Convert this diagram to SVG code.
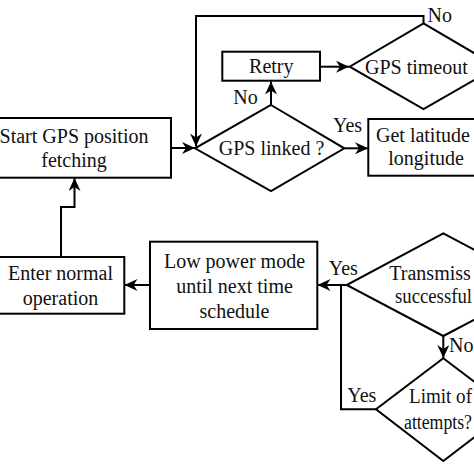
<svg xmlns="http://www.w3.org/2000/svg" width="474" height="474" viewBox="0 0 474 474">
<style>
.box{fill:#fff;stroke:#000;stroke-width:2}
.con{fill:none;stroke:#000;stroke-width:2}
text{font-family:"Liberation Serif","Times New Roman",serif;font-size:20px;fill:#111}
.m{text-anchor:middle}
</style>
<defs>
<marker id="ah" markerUnits="userSpaceOnUse" markerWidth="14" markerHeight="12" refX="13" refY="6" orient="auto">
<path d="M0,0 L13,6 L0,12 L4,6 Z" fill="#000"/>
</marker>
</defs>
<rect width="474" height="474" fill="#fff"/>
<g id="connectors">
<path class="con" d="M171,148 H195" marker-end="url(#ah)"/>
<path class="con" d="M423.5,23.3 V16 H196 V146.5" marker-end="url(#ah)"/>
<path class="con" d="M271,105 V81.5" marker-end="url(#ah)"/>
<path class="con" d="M320,66.7 H349" marker-end="url(#ah)"/>
<path class="con" d="M344.3,148.3 H368" marker-end="url(#ah)"/>
<path class="con" d="M346.7,285 H317.5" marker-end="url(#ah)"/>
<path class="con" d="M150,285 H124.5" marker-end="url(#ah)"/>
<path class="con" d="M61,257 V207 H74.5 V178" marker-end="url(#ah)"/>
<path class="con" d="M443.3,336 V358" marker-end="url(#ah)"/>
<path class="con" d="M376,409.3 H341 V285"/>
</g>
<g id="start">
<rect class="box" x="-23" y="118" width="194" height="59.7"/>
<text class="m" x="74" y="143.3">Start GPS position</text>
<text class="m" x="74" y="166.7">fetching</text>
</g>
<g id="gpslinked">
<polygon class="box" points="271,105 344.3,148.3 271,191 195,148.3"/>
<text class="m" x="271.5" y="155">GPS linked ?</text>
</g>
<g id="retry">
<rect class="box" x="222.3" y="51.7" width="97.7" height="29"/>
<text class="m" x="271.3" y="73.3">Retry</text>
</g>
<g id="gpstimeout">
<polygon class="box" points="423.5,23.3 497.3,66.7 423.5,109 349.7,66.7"/>
<text x="365" y="73.5">GPS timeout</text>
</g>
<g id="getlat">
<rect class="box" x="368.3" y="119" width="140" height="56.7"/>
<text x="376" y="141.7">Get latitude</text>
<text x="388.3" y="165">longitude</text>
</g>
<g id="transmission">
<polygon class="box" points="443.3,233.3 540,285 443.3,336 346.7,285"/>
<text x="389.3" y="280">Transmiss</text>
<text x="395" y="303.3" textLength="77" lengthAdjust="spacingAndGlyphs">successful</text>
</g>
<g id="limit">
<polygon class="box" points="443.3,358.3 510.6,409.3 443.3,461 376,409.3"/>
<text x="409" y="403.3" textLength="63" lengthAdjust="spacingAndGlyphs">Limit of</text>
<text x="404" y="429.3" textLength="68" lengthAdjust="spacingAndGlyphs">attempts?</text>
</g>
<g id="lowpower">
<rect class="box" x="150" y="241.7" width="167.3" height="87.3"/>
<text class="m" x="234.5" y="268.3">Low power mode</text>
<text class="m" x="234.5" y="293.3">until next time</text>
<text class="m" x="234.5" y="318.3">schedule</text>
</g>
<g id="enternormal">
<rect class="box" x="-3.5" y="257" width="127.8" height="56.7"/>
<text class="m" x="60.5" y="280.3">Enter normal</text>
<text class="m" x="60.5" y="305.3">operation</text>
</g>
<g id="labels">
<text x="427.5" y="22">No</text>
<text x="233.3" y="104">No</text>
<text x="333" y="131.5">Yes</text>
<text x="328.7" y="275">Yes</text>
<text x="449" y="352">No</text>
<text x="347.3" y="401.7">Yes</text>
</g>
</svg>
